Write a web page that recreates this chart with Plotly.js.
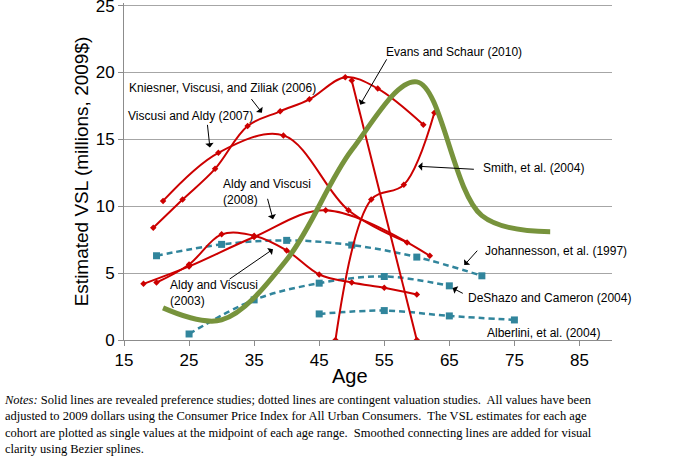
<!DOCTYPE html>
<html>
<head>
<meta charset="utf-8">
<script src="https://cdn.plot.ly/plotly-3.0.1.min.js"></script>
<style>
  body { margin: 0; background: white; }
  #vsl_chart { width: 685px; height: 458px; }
</style>
</head>
<body>
<div id="vsl_chart"></div>
<script>
// revealed preference studies (solid red)
var kniesner_age = [19.5, 24, 29, 34, 39, 43.5, 49, 54, 61]
var kniesner_vsl = [8.4, 10.5, 12.8, 16.0, 17.1, 18.0, 19.65, 18.8, 16.1]
var viscusi_aldy_age = [21, 29.5, 39.5, 49.5, 58.5]
var viscusi_aldy_vsl = [10.4, 14.0, 15.3, 9.7, 7.3]
var aldy_2008_age = [18, 25, 35, 46, 62]
var aldy_2008_vsl = [4.2, 5.5, 7.7, 9.7, 6.3]
var aldy_2003_age = [20, 25, 30, 35, 40, 45, 50, 55, 60]
var aldy_2003_vsl = [4.3, 5.65, 7.9, 7.8, 6.7, 4.9, 4.3, 3.9, 3.4]
var evans_age = [50, 60]
var evans_vsl = [19.4, 0]
var smith_age = [47.5, 53, 58, 62.7]
var smith_vsl = [0, 10.5, 11.6, 17.0]
var green_age = [21, 30, 40, 50, 60, 70, 80.5]
var green_vsl = [2.4, 1.5, 6.0, 14.2, 19.3, 9.3, 8.1]

// contingent valuation studies (dashed blue)
var johannesson_age = [20, 30, 40, 50, 60, 70]
var johannesson_vsl = [6.3, 7.15, 7.45, 7.1, 6.2, 4.8]
var deshazo_age = [25, 35, 45, 55, 65]
var deshazo_vsl = [0.45, 3.0, 4.25, 4.75, 4.05]
var alberini_age = [45, 55, 65, 75]
var alberini_vsl = [1.95, 2.2, 1.8, 1.5]

var x_ticks = [15, 25, 35, 45, 55, 65, 75, 85]
var y_ticks = [0, 5, 10, 15, 20, 25]

function red_trace(x, y) {
    return {
        x: x, y: y,
        mode: 'lines+markers',
        type: 'scatter',
        line: {color: '#CC0000', width: 2, shape: 'spline', smoothing: 1},
        marker: {symbol: 'diamond', size: 5, color: '#CC0000'},
        hoverinfo: 'skip'
    }
}

function blue_trace(x, y) {
    return {
        x: x, y: y,
        mode: 'lines+markers',
        type: 'scatter',
        line: {color: '#31859C', width: 2.5, dash: '6px,4px', shape: 'spline', smoothing: 1},
        marker: {symbol: 'square', size: 7, color: '#31859C'},
        hoverinfo: 'skip'
    }
}

var green = {
    x: green_age, y: green_vsl,
    mode: 'lines',
    type: 'scatter',
    line: {color: '#77933C', width: 5, shape: 'spline', smoothing: 1},
    hoverinfo: 'skip'
}

var data = [
    blue_trace(johannesson_age, johannesson_vsl),
    blue_trace(deshazo_age, deshazo_vsl),
    blue_trace(alberini_age, alberini_vsl),
    red_trace(kniesner_age, kniesner_vsl),
    red_trace(viscusi_aldy_age, viscusi_aldy_vsl),
    red_trace(aldy_2008_age, aldy_2008_vsl),
    red_trace(aldy_2003_age, aldy_2003_vsl),
    red_trace(evans_age, evans_vsl),
    red_trace(smith_age, smith_vsl),
    green
]

// labels: [text, x, y]
var labels = [
    ['Kniesner, Viscusi, and Ziliak (2006)', 15.45, 18.88],
    ['Viscusi and Aldy (2007)', 15.3, 16.72],
    ['Aldy and Viscusi<br>(2008)', 29.9, 11.1],
    ['Aldy and Viscusi<br>(2003)', 21.8, 3.5],
    ['Evans and Schaur (2010)', 55.0, 21.57],
    ['Smith, et al. (2004)', 69.9, 12.84],
    ['Johannesson, et al. (1997)', 70.1, 6.64],
    ['DeShazo and Cameron (2004)', 67.6, 3.13],
    ['Alberlini, et al. (2004)', 70.5, 0.52]
]
// arrows: [tail x, tail y, tip x, tip y]
var arrows = [
    [34.4, 18.13, 36.2, 17.0],
    [27.8, 16.2, 28.2, 14.4],
    [37.0, 10.67, 37.9, 9.03],
    [31.0, 4.48, 37.9, 6.79],
    [55.5, 21.1, 51.3, 17.6],
    [69.0, 12.76, 60.2, 12.99],
    [69.5, 6.79, 67.3, 5.6],
    [67.3, 3.43, 65.5, 3.88]
]

var annotations = []
labels.forEach(function(l) {
    annotations.push({
        x: l[1], y: l[2], xref: 'x', yref: 'y',
        text: l[0], showarrow: false,
        xanchor: 'left', yanchor: 'middle', align: 'left',
        font: {family: '"Liberation Sans", Arial, sans-serif', size: 12, color: 'black'}
    })
})
arrows.forEach(function(a) {
    annotations.push({
        x: a[2], y: a[3], ax: a[0], ay: a[1],
        xref: 'x', yref: 'y', axref: 'x', ayref: 'y',
        text: '', showarrow: true,
        arrowhead: 1, arrowsize: 1.4, arrowwidth: 1, arrowcolor: 'black'
    })
})
// x axis title placed by hand so it sits just above the notes
annotations.push({
    xref: 'paper', yref: 'paper', x: 0.463, y: -0.108,
    xanchor: 'center', yanchor: 'middle', showarrow: false,
    text: 'Age', font: {size: 20, color: 'black'}
})
annotations.push({
    xref: 'paper', yref: 'paper', x: -0.25, y: -0.151,
    xanchor: 'left', yanchor: 'top', align: 'left', showarrow: false,
    font: {family: '"Liberation Serif", "Times New Roman", serif', size: 12.5, color: 'black'},
    text: '<i>Notes:</i> Solid lines are revealed preference studies; dotted lines are contingent valuation studies.  All values have been<br>' +
          'adjusted to 2009 dollars using the Consumer Price Index for All Urban Consumers.  The VSL estimates for each age<br>' +
          'cohort are plotted as single values at the midpoint of each age range.  Smoothed connecting lines are added for visual<br>' +
          'clarity using Bezier splines.'
})

var layout = {
    width: 685,
    height: 458,
    showlegend: false,
    margin: {l: 124, r: 73, t: 3, b: 118, pad: 0},
    paper_bgcolor: 'white',
    plot_bgcolor: 'white',
    font: {family: '"Liberation Sans", Arial, sans-serif', color: 'black'},
    xaxis: {
        range: [15, 90],
        tickvals: x_ticks,
        showgrid: false,
        zeroline: false,
        showline: true,
        linecolor: '#8c8c8c',
        linewidth: 1,
        ticks: 'outside',
        ticklen: 5,
        tickcolor: '#8c8c8c',
        tickfont: {size: 17}
    },
    yaxis: {
        range: [0, 25.2],
        tickvals: y_ticks,
        showgrid: true,
        gridcolor: '#a6a6a6',
        gridwidth: 1,
        zeroline: false,
        showline: true,
        linecolor: '#8c8c8c',
        linewidth: 1,
        ticks: 'outside',
        ticklen: 5,
        tickcolor: '#8c8c8c',
        tickfont: {size: 17},
        ticklabeloverflow: 'allow',
        title: {text: 'Estimated VSL (millions, 2009$)', font: {size: 19}, standoff: 2}
    },
    annotations: annotations
}

Plotly.newPlot('vsl_chart', data, layout, {displayModeBar: false, staticPlot: true})
</script>
</body>
</html>
